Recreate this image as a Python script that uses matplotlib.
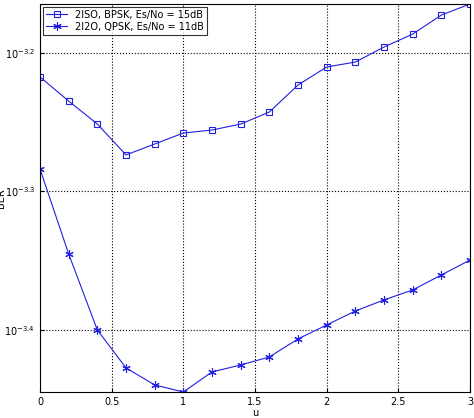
import matplotlib
matplotlib.use("Agg")
import matplotlib.pyplot as plt
import numpy as np
from matplotlib.ticker import FixedLocator, NullLocator

u = [0, 0.2, 0.4, 0.6, 0.8, 1.0, 1.2, 1.4, 1.6, 1.8, 2.0, 2.2, 2.4, 2.6, 2.8, 3.0]
exp_biso = [-3.2173, -3.2347, -3.2513, -3.2736, -3.2657, -3.2578, -3.2556, -3.2513,
            -3.2426, -3.2231, -3.2101, -3.2065, -3.1957, -3.1863, -3.1726, -3.1646]
exp_i2o = [-3.2838, -3.3451, -3.4000, -3.4274, -3.4397, -3.4448, -3.4303, -3.4253,
           -3.4195, -3.4065, -3.3964, -3.3863, -3.3783, -3.3711, -3.3603, -3.3495]
labels = ["2ISO, BPSK, Es/No = 15dB", "2I2O, QPSK, Es/No = 11dB"]
ytick_exps = [-3.4, -3.3, -3.2]

fig = plt.figure(figsize=(4.74, 4.18), dpi=100)
ax = fig.add_axes([40/474, 1-392/418, 430/474, 388/418])
c = "#2020e0"
ax.semilogy(u, 10**np.array(exp_biso), '-s', color=c, lw=0.8, ms=5, mfc='none', mew=0.8, label=labels[0])
ax.semilogy(u, 10**np.array(exp_i2o), '-', marker=(6, 2, 0), color=c, lw=0.8, ms=6, mew=0.8, label=labels[1])
ax.set_xlim(0, 3)
ax.set_ylim(10**-3.4448, 10**-3.1646)
ax.yaxis.set_major_locator(FixedLocator([10**e for e in ytick_exps]))
ax.yaxis.set_minor_locator(NullLocator())
ax.set_yticklabels([r"$10^{%.1f}$" % e for e in ytick_exps])
ax.set_xticks([0, 0.5, 1, 1.5, 2, 2.5, 3])
ax.set_xticklabels(["0", "0.5", "1", "1.5", "2", "2.5", "3"])
ax.tick_params(labelsize=7, direction='in', length=3)
ax.grid(True, linestyle=':', color='black', lw=0.8)
ax.set_ylabel("BER", fontsize=7)
ax.yaxis.set_label_coords(-0.08, 0.5)
ax.set_xlabel("u", fontsize=7, labelpad=1)
leg = ax.legend(loc='upper left', fontsize=7, fancybox=False, edgecolor='black',
                borderpad=0.3, handlelength=2.2, labelspacing=0.2, borderaxespad=0.3)
leg.get_frame().set_linewidth(0.8)
fig.savefig("out.png", dpi=100)
